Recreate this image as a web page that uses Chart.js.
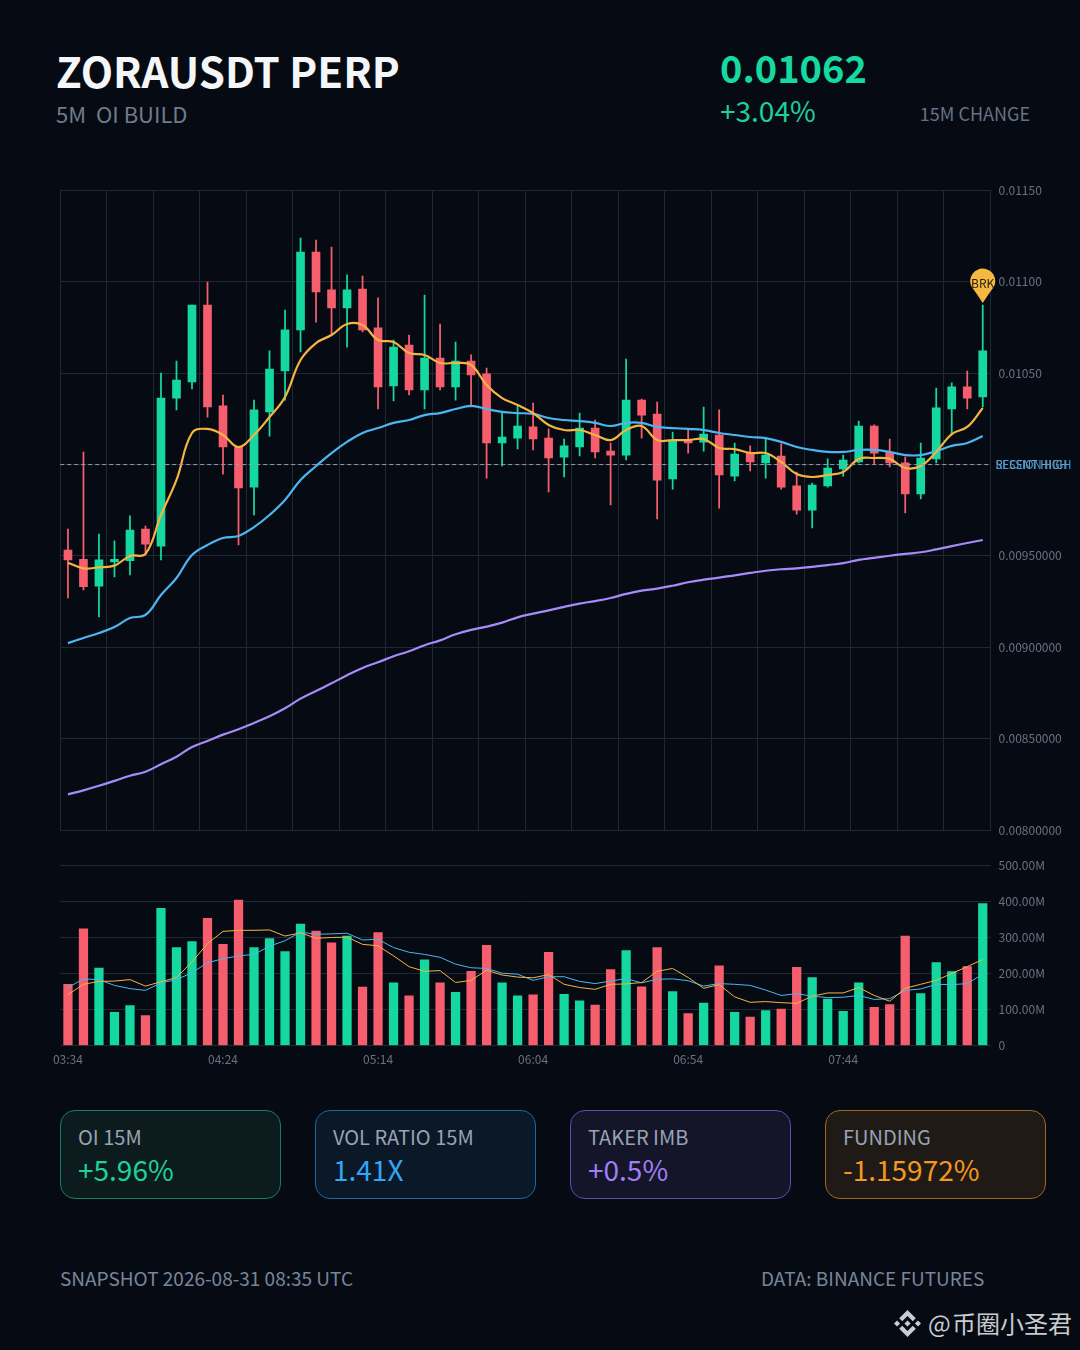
<!DOCTYPE html>
<html>
<head>
<meta charset="utf-8">
<title>ZORAUSDT PERP</title>
<script src="https://cdn.jsdelivr.net/npm/chart.js@4"></script>
<style>
  html, body { margin: 0; padding: 0; background: #060b13; }
  body { position: relative; width: 1080px; height: 1350px; overflow: hidden;
         font-family: "Noto Sans CJK SC", "Noto Sans", sans-serif; }
  canvas { position: absolute; left: 0; }
  .t { position: absolute; white-space: pre; line-height: 1; }
  .card { position: absolute; top: 1110px; width: 219px; height: 87px; border-radius: 15px; border: 1px solid; }
  .card .lbl { position: absolute; left: 17px; top: 14px; font-size: 20px; line-height: 24px; color: #98a3b3; }
  .card .val { position: absolute; left: 17px; top: 41px; font-size: 28px; line-height: 34px; }
</style>
</head>
<body>
<div class="t" style="left:56px;top:49px;font-size:42px;font-weight:700;color:#f4f6f8">ZORAUSDT PERP</div>
<div class="t" style="left:56px;top:102px;font-size:22px;color:#6f7b8b">5M  OI BUILD</div>
<div class="t" style="left:720px;top:48px;font-size:38px;font-weight:700;color:#16d9a0">0.01062</div>
<div class="t" style="left:720px;top:96px;font-size:28px;color:#1fcf9b">+3.04%</div>
<div class="t" style="right:50px;top:104px;font-size:18px;color:#667282">15M CHANGE</div>

<canvas id="priceChart" width="1080" height="850" style="top:0"></canvas>
<canvas id="volChart" width="1080" height="230" style="top:850px"></canvas>

<div class="card" style="left:60px;background:#0c1c1e;border-color:#14805f">
  <div class="lbl">OI 15M</div><div class="val" style="color:#1fd19a">+5.96%</div>
</div>
<div class="card" style="left:315px;background:#0a1828;border-color:#1f679f">
  <div class="lbl">VOL RATIO 15M</div><div class="val" style="color:#33a6f5">1.41X</div>
</div>
<div class="card" style="left:570px;background:#15152a;border-color:#6649ad">
  <div class="lbl">TAKER IMB</div><div class="val" style="color:#a07ef5">+0.5%</div>
</div>
<div class="card" style="left:825px;background:#1f1a16;border-color:#a06a1d">
  <div class="lbl">FUNDING</div><div class="val" style="color:#f5981f">-1.15972%</div>
</div>

<div class="t" style="left:60px;top:1268px;font-size:19px;color:#78869a">SNAPSHOT 2026-08-31 08:35 UTC</div>
<div class="t" style="left:761px;top:1268px;font-size:19px;color:#78869a">DATA: BINANCE FUTURES</div>

<svg style="position:absolute;left:894px;top:1310px" width="27" height="27" viewBox="0 0 126.61 126.61">
  <path fill="#c9ccd0" d="M38.73 53.2L63.3 28.63l24.59 24.58 14.3-14.3L63.3 0 24.42 38.89zM0 63.31l14.3-14.3 14.3 14.3-14.3 14.3zM38.73 73.41L63.3 97.97l24.59-24.57 14.31 14.29-.01.01L63.3 126.61 24.42 87.73l-.02-.02zM97.99 63.31l14.3-14.3 14.3 14.3-14.3 14.3zM77.8 63.3l-14.5-14.51-10.73 10.73-1.23 1.23-2.54 2.54 14.5 14.5 14.5-14.49z"/>
</svg>
<div class="t" style="left:928px;top:1311px;font-size:24px;word-spacing:-4px;color:#c9ccd0">@ 币圈小圣君</div>

<script>
const times = ['03:34','03:39','03:44','03:49','03:54','03:59','04:04','04:09','04:14','04:19',
  '04:24','04:29','04:34','04:39','04:44','04:49','04:54','04:59','05:04','05:09',
  '05:14','05:19','05:24','05:29','05:34','05:39','05:44','05:49','05:54','05:59',
  '06:04','06:09','06:14','06:19','06:24','06:29','06:34','06:39','06:44','06:49',
  '06:54','06:59','07:04','07:09','07:14','07:19','07:24','07:29','07:34','07:39',
  '07:44','07:49','07:54','07:59','08:04','08:09','08:14','08:19','08:24','08:29'];

const opens = [0.009532,0.009481,0.009335,0.009467,0.009474,0.009647,0.009554,0.010364,0.010452,0.010873,
  0.010321,0.010096,0.009877,0.010288,0.010512,0.010737,0.011163,0.010956,0.010857,0.010961,
  0.010748,0.010430,0.010654,0.010408,0.010583,0.010425,0.010567,0.010496,0.010118,0.010145,
  0.010206,0.010145,0.010041,0.010096,0.010200,0.010074,0.010052,0.010353,0.010277,0.009921,
  0.010134,0.010123,0.010162,0.009937,0.010063,0.010009,0.010047,0.009883,0.009751,0.009883,
  0.009976,0.010014,0.010211,0.010069,0.010009,0.009839,0.010031,0.010304,0.010425,0.010370];
const closes = [0.009478,0.009332,0.009478,0.009481,0.009642,0.009564,0.010364,0.010463,0.010873,0.010315,
  0.010096,0.009872,0.010299,0.010523,0.010737,0.011163,0.010945,0.010857,0.010956,0.010737,
  0.010425,0.010643,0.010408,0.010583,0.010425,0.010567,0.010490,0.010118,0.010151,0.010211,
  0.010140,0.010036,0.010102,0.010200,0.010069,0.010052,0.010353,0.010271,0.009915,0.010134,
  0.010118,0.010167,0.009943,0.010058,0.010014,0.010052,0.009877,0.009751,0.009888,0.009981,
  0.010025,0.010211,0.010063,0.010009,0.009839,0.010036,0.010310,0.010425,0.010364,0.010622];
const highs = [0.009647,0.010069,0.009620,0.009582,0.009719,0.009664,0.010501,0.010567,0.010873,0.010999,
  0.010381,0.010096,0.010353,0.010622,0.010846,0.011240,0.011229,0.011191,0.011038,0.011032,
  0.010912,0.010682,0.010709,0.010928,0.010769,0.010671,0.010600,0.010528,0.010288,0.010321,
  0.010337,0.010195,0.010140,0.010282,0.010244,0.010118,0.010578,0.010359,0.010342,0.010178,
  0.010189,0.010315,0.010299,0.010118,0.010102,0.010145,0.010113,0.009959,0.009899,0.010031,
  0.010052,0.010238,0.010217,0.010140,0.010041,0.010118,0.010419,0.010447,0.010512,0.010873];
const lows = [0.009270,0.009314,0.009166,0.009385,0.009396,0.009505,0.009478,0.010299,0.010414,0.010260,
  0.009948,0.009560,0.009724,0.010156,0.010353,0.010616,0.010780,0.010709,0.010643,0.010726,
  0.010304,0.010348,0.010381,0.010304,0.010408,0.010353,0.010315,0.009926,0.009992,0.010085,
  0.010080,0.009850,0.009932,0.010047,0.010036,0.009779,0.010025,0.010145,0.009702,0.009866,
  0.010063,0.010074,0.009762,0.009910,0.009965,0.009926,0.009866,0.009729,0.009653,0.009877,
  0.009937,0.010009,0.010003,0.009987,0.009735,0.009812,0.010009,0.010162,0.010304,0.010315];

const emaFast = [0.009463,0.009432,0.009438,0.009447,0.009500,0.009511,0.009724,0.009916,0.010173,0.010195,
  0.010162,0.010096,0.010162,0.010260,0.010370,0.010572,0.010665,0.010709,0.010769,0.010764,
  0.010682,0.010671,0.010611,0.010600,0.010556,0.010556,0.010545,0.010436,0.010364,0.010326,
  0.010282,0.010217,0.010189,0.010189,0.010162,0.010134,0.010189,0.010211,0.010134,0.010134,
  0.010134,0.010140,0.010091,0.010085,0.010063,0.010063,0.010014,0.009948,0.009932,0.009943,
  0.009959,0.010031,0.010036,0.010031,0.009981,0.009992,0.010069,0.010167,0.010206,0.010310];
const emaMid = [0.009023,0.009051,0.009078,0.009111,0.009160,0.009177,0.009286,0.009379,0.009505,0.009560,
  0.009598,0.009609,0.009658,0.009724,0.009806,0.009916,0.009992,0.010063,0.010124,0.010173,
  0.010200,0.010228,0.010244,0.010271,0.010282,0.010304,0.010321,0.010304,0.010288,0.010282,
  0.010277,0.010255,0.010244,0.010238,0.010228,0.010211,0.010228,0.010228,0.010206,0.010200,
  0.010195,0.010189,0.010173,0.010162,0.010151,0.010145,0.010124,0.010096,0.010080,0.010069,
  0.010069,0.010080,0.010080,0.010069,0.010052,0.010052,0.010074,0.010102,0.010118,0.010156];
const emaSlow = [0.008195,0.008217,0.008242,0.008269,0.008297,0.008319,0.008360,0.008401,0.008454,0.008487,
  0.008522,0.008551,0.008586,0.008622,0.008666,0.008719,0.008761,0.008803,0.008847,0.008887,
  0.008918,0.008951,0.008978,0.009011,0.009038,0.009071,0.009095,0.009113,0.009135,0.009164,
  0.009184,0.009202,0.009221,0.009239,0.009253,0.009270,0.009292,0.009310,0.009321,0.009337,
  0.009356,0.009370,0.009381,0.009394,0.009407,0.009419,0.009427,0.009432,0.009440,0.009450,
  0.009461,0.009478,0.009489,0.009501,0.009511,0.009520,0.009536,0.009554,0.009571,0.009587];

// volume in millions
const volume = [170,324,215,92,111,83,381,272,289,353,
  281,404,272,297,261,337,318,285,304,162,
  314,174,138,238,174,148,206,278,174,138,
  141,259,142,124,112,211,264,163,272,150,
  89,118,221,92,79,97,101,217,189,129,
  95,174,106,114,304,144,230,205,219,394];
const volFast = [141,170,178,179,183,165,177,189,232,283,
  317,320,320,321,304,313,298,300,301,281,
  277,249,219,206,208,175,181,209,196,190,
  188,197,170,161,156,170,171,175,206,214,
  189,159,169,135,120,122,119,117,137,146,
  146,161,139,123,159,170,181,200,219,239];
const volSlow = [161,185,183,167,158,153,174,183,202,230,
  241,249,253,276,291,315,309,310,312,293,
  295,272,259,253,245,226,216,214,201,198,
  181,191,191,178,172,179,186,174,184,185,
  180,165,172,170,167,154,139,144,137,133,
  134,139,128,130,153,157,170,169,172,198];

const priceTickLabels = ['0.00800000','0.00850000','0.00900000','0.00950000','','0.01050','0.01100','0.01150'];
const volTickLabels = ['0','100.00M','200.00M','300.00M','400.00M','500.00M'];
const refLevel = 0.0100;
const refLabels = [['RECENT HIGH', '#8a9ab0'], ['SESSION HIGH', '#3f9fe0']];

const UP = '#14d8a0';
const DOWN = '#f65e6e';
const GRID = '#1f2834';
const TICK = '#687282';
const FONT = '"Noto Sans CJK SC", "Noto Sans", sans-serif';

const isUp = i => closes[i] >= opens[i];
const dirColor = ctx => isUp(ctx.dataIndex) ? UP : DOWN;

// dashed level with the piled up labels, and the BRK pin over the last candle
const overlays = {
  id: 'overlays',
  afterDatasetsDraw(chart) {
    const { ctx, chartArea, scales } = chart;
    const y = scales.y.getPixelForValue(refLevel);
    ctx.save();
    ctx.strokeStyle = '#8f9db3';
    ctx.lineWidth = 1;
    ctx.setLineDash([4, 3]);
    ctx.beginPath();
    ctx.moveTo(chartArea.left, y);
    ctx.lineTo(chartArea.right, y);
    ctx.stroke();
    ctx.setLineDash([]);

    ctx.font = '11.2px ' + FONT;
    ctx.textBaseline = 'middle';
    refLabels.forEach(([txt, col]) => {
      ctx.fillStyle = col;
      ctx.fillText(txt, chartArea.right + 5, y + 0.5);
    });

    const last = times.length - 1;
    const px = scales.x.getPixelForValue(last);
    const tip = scales.y.getPixelForValue(highs[last]) - 2;
    const r = 12.5;
    const cy = tip - 22;
    ctx.fillStyle = '#f5b942';
    ctx.beginPath();
    ctx.arc(px, cy, r, Math.PI * 0.85, Math.PI * 0.15);
    ctx.quadraticCurveTo(px + 5, tip - 8, px, tip);
    ctx.quadraticCurveTo(px - 5, tip - 8, px - r * Math.cos(Math.PI * 0.15), cy + r * Math.sin(Math.PI * 0.15));
    ctx.fill();
    ctx.fillStyle = '#2a2110';
    ctx.font = '12px ' + FONT;
    ctx.textAlign = 'center';
    ctx.fillText('BRK', px, cy + 2);
    ctx.restore();
  },
};

new Chart(document.getElementById('priceChart'), {
  data: {
    labels: times,
    datasets: [
      { type: 'bar', data: lows.map((l, i) => [l, highs[i]]), grouped: false, barThickness: 1.1,
        backgroundColor: dirColor, order: 5 },
      { type: 'bar', data: opens.map((o, i) => [o, closes[i]]), grouped: false, barThickness: 8,
        backgroundColor: dirColor, order: 4 },
      { type: 'line', data: emaSlow, borderColor: '#a78bfa', borderWidth: 2.2, pointRadius: 0, tension: 0.4, order: 3 },
      { type: 'line', data: emaMid, borderColor: '#4db6f0', borderWidth: 2.2, pointRadius: 0, tension: 0.4, order: 2 },
      { type: 'line', data: emaFast, borderColor: '#f5b442', borderWidth: 2.2, pointRadius: 0, tension: 0.4, order: 1 },
    ],
  },
  options: {
    responsive: false,
    animation: false,
    devicePixelRatio: 1,
    layout: { padding: { left: 60.2, top: 190.5, bottom: 20 } },
    plugins: { legend: { display: false }, tooltip: { enabled: false } },
    scales: {
      x: {
        offset: true,
        afterFit: s => { s.height = 0; },
        grid: { offset: true, drawTicks: false, color: c => c.index % 3 === 0 ? GRID : 'transparent' },
        border: { color: GRID },
        ticks: { display: false, autoSkip: false },
      },
      y: {
        position: 'right',
        min: 0.008,
        max: 0.0115,
        afterFit: s => { s.width = 89.5; },
        grid: { drawTicks: false, color: GRID },
        border: { color: GRID },
        ticks: {
          stepSize: 0.0005,
          padding: 8,
          color: TICK,
          font: { size: 12, family: FONT },
          callback: (v, i) => priceTickLabels[i],
        },
      },
    },
  },
  plugins: [overlays],
});

new Chart(document.getElementById('volChart'), {
  data: {
    labels: times,
    datasets: [
      { type: 'bar', data: volume, barThickness: 8.6, backgroundColor: dirColor, order: 3 },
      { type: 'line', data: volSlow, borderColor: '#4db6f0', borderWidth: 1, pointRadius: 0, tension: 0, order: 2 },
      { type: 'line', data: volFast, borderColor: '#f5b442', borderWidth: 1, pointRadius: 0, tension: 0, order: 1 },
    ],
  },
  options: {
    responsive: false,
    animation: false,
    devicePixelRatio: 1,
    layout: { padding: { left: 60.2, top: 15.5 } },
    plugins: { legend: { display: false }, tooltip: { enabled: false } },
    scales: {
      x: {
        offset: true,
        afterFit: s => { s.height = 34.5; },
        grid: { display: false, drawTicks: false },
        border: { color: GRID },
        ticks: {
          autoSkip: false,
          maxRotation: 0,
          padding: 7,
          color: TICK,
          font: { size: 12, family: FONT },
          callback: (v, i) => i % 10 === 0 ? times[i] : '',
        },
      },
      y: {
        position: 'right',
        min: 0,
        max: 500,
        afterFit: s => { s.width = 89.5; },
        grid: { drawTicks: false, color: GRID },
        border: { display: false },
        ticks: {
          stepSize: 100,
          padding: 8,
          color: TICK,
          font: { size: 12, family: FONT },
          callback: (v, i) => volTickLabels[i],
        },
      },
    },
  },
});
</script>
</body>
</html>
